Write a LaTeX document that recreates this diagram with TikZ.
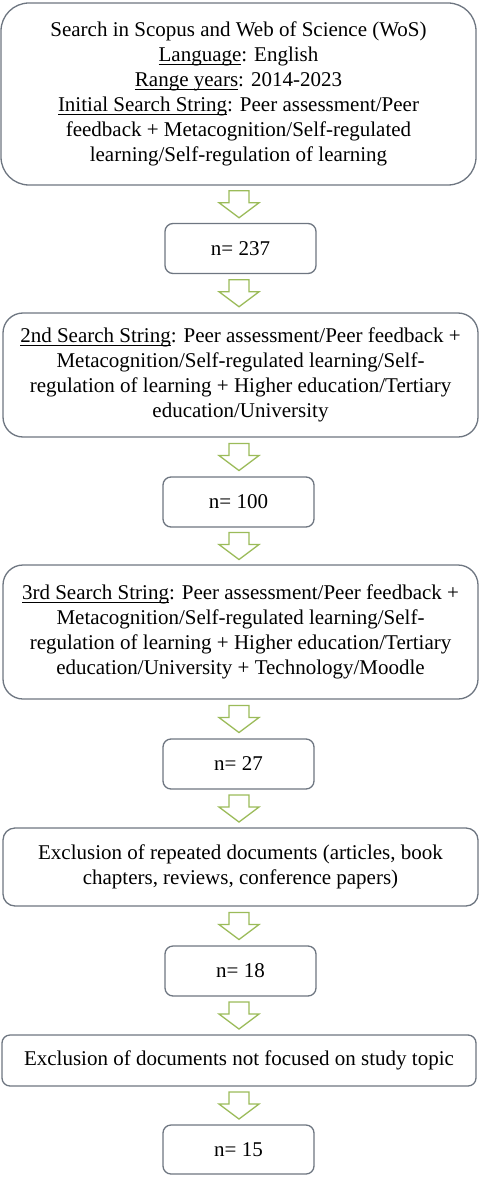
\documentclass[tikz,border=0pt]{standalone}
\usepackage{fontspec}
\setmainfont{Liberation Serif}
\newcommand\myul[1]{\setbox0\hbox{#1}\rlap{\rule[-3pt]{\wd0}{1pt}}\copy0}
\usetikzlibrary{calc}
\definecolor{boxline}{HTML}{6E7681}
\definecolor{arrgreen}{HTML}{9BBB59}
\tikzset{
  bigbox/.style={draw=boxline, line width=1.3pt, fill=white, align=center,
    minimum width=475pt, inner sep=0pt, font=\fontsize{21}{25}\selectfont},
  nbox/.style={draw=boxline, line width=1.3pt, fill=white, rounded corners=8pt,
    minimum width=151pt, minimum height=50pt, inner sep=0pt, font=\fontsize{21}{25}\selectfont},
  greenarrow/.style={draw=arrgreen, line width=1.3pt, fill=white, line join=miter},
  downarrow/.pic={\draw[greenarrow] (-10,-13.5) -- (10,-13.5) -- (10,-1.5) -- (20,-1.5) -- (0,13.5) -- (-20,-1.5) -- (-10,-1.5) -- cycle;}
}
\begin{document}
\begin{tikzpicture}[x=1pt,y=-1pt]
\useasboundingbox (0,0) rectangle (480,1177);
\node[bigbox, rounded corners=28pt, minimum height=182pt] (b1) at (238.5,94)
  {Search in Scopus and Web of Science (WoS)\\
   \myul{Language}: English\\
   \myul{Range years}: 2014-2023\\
   \myul{Initial Search String}: Peer assessment/Peer\\
   feedback + Metacognition/Self-regulated\\
   learning/Self-regulation of learning};
\node[nbox] (b2) at (240.5,248.5) {n= 237};
\node[bigbox, rounded corners=20pt, minimum height=124pt] (b3) at (240.5,375)
  {\myul{2nd Search String}: Peer assessment/Peer feedback +\\
   Metacognition/Self-regulated learning/Self-\\
   regulation of learning + Higher education/Tertiary\\
   education/University};
\node[nbox] (b4) at (238.5,502) {n= 100};
\node[bigbox, rounded corners=20pt, minimum height=134pt] (b5) at (240.5,632)
  {\myul{3rd Search String}: Peer assessment/Peer feedback +\\
   Metacognition/Self-regulated learning/Self-\\
   regulation of learning + Higher education/Tertiary\\
   education/University + Technology/Moodle};
\node[nbox] (b6) at (238.5,764) {n= 27};
\node[bigbox, rounded corners=12pt, minimum height=78pt] (b7) at (240.5,867)
  {Exclusion of repeated documents (articles, book\\
   chapters, reviews, conference papers)};
\node[nbox] (b8) at (240.5,971) {n= 18};
\node[bigbox, rounded corners=8pt, minimum width=474pt, minimum height=51pt] (b9) at (239,1060.5)
  {Exclusion of documents not focused on study topic};
\node[nbox, minimum height=49pt] (b10) at (238.5,1149.5) {n= 15};
\foreach \a/\b in {b1/b2,b2/b3,b3/b4,b4/b5,b5/b6,b6/b7,b7/b8,b8/b9,b9/b10}{
  \coordinate (m-\a) at ($(\a.south)!0.5!(\b.north)$);
  \path (239,0 |- m-\a) pic {downarrow};
}
\end{tikzpicture}
\end{document}
